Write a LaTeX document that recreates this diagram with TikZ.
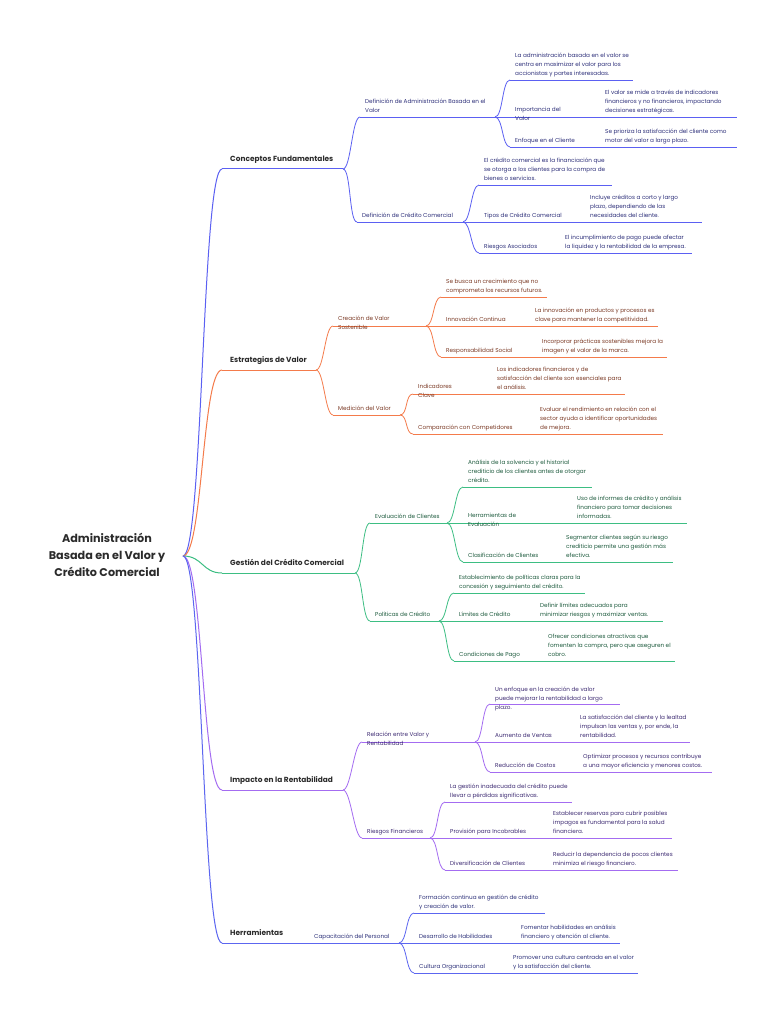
\documentclass[tikz,border=0pt]{standalone}
\usepackage{fontspec}
\setmainfont{Poppins}
\usetikzlibrary{calc}
\definecolor{lnA}{HTML}{5B60F2}\definecolor{txA}{HTML}{2E307A}
\definecolor{lnB}{HTML}{F47B4B}\definecolor{txB}{HTML}{7B3A25}
\definecolor{lnC}{HTML}{3DBE83}\definecolor{txC}{HTML}{1F5C3F}
\definecolor{lnD}{HTML}{A46CF1}\definecolor{txD}{HTML}{3E2C73}
\definecolor{lnE}{HTML}{5C66F0}\definecolor{txE}{HTML}{2E327A}
\definecolor{dark}{HTML}{2B2B2B}
\tikzset{
  txtbase/.style={inner sep=0pt, anchor=base west, font=\fontsize{5.7}{9}\selectfont},
  Aline/.style={draw=lnA, line width=0.8pt}, Atxt/.style={txtbase, text=txA},
  Bline/.style={draw=lnB, line width=0.8pt}, Btxt/.style={txtbase, text=txB},
  Cline/.style={draw=lnC, line width=0.8pt}, Ctxt/.style={txtbase, text=txC},
  Dline/.style={draw=lnD, line width=0.8pt}, Dtxt/.style={txtbase, text=txD},
  Eline/.style={draw=lnE, line width=0.8pt}, Etxt/.style={txtbase, text=txE},
  Ltxt/.style={inner sep=0pt, anchor=base west, xshift=3pt, text=dark, font=\fontsize{7.4}{10}\selectfont\bfseries},
  roottxt/.style={inner sep=0pt, align=center, text=dark, font=\fontsize{11.2}{17}\selectfont\bfseries},
}
% #1 dy, #2 name, #3 line style, #4 text style, #5 x0, #6 x1, #7 y, #8 text
\newcommand\mytopic[8][-4.5]{%
  \coordinate (#2-s) at (#5,#7);
  \coordinate (#2-e) at (#6,#7);
  \draw[#3] (#2-s) -- (#2-e);
  \node[#4] (#2) at ($(#2-s)+(5,#1)$) {\begin{tabular}[b]{@{}l@{}}#8\end{tabular}};
}
\newcommand\myconn[3]{\draw[#1] (#2-e) .. controls +(8,0) and +(-8,0) .. (#3-s);}
\newcommand\myrootconn[2]{\draw[#1, line width=1pt] (R) .. controls +(20,0) and +(-20,0) .. (#2-s);}
\begin{document}
\begin{tikzpicture}[x=1pt,y=-1pt]
\fill[white] (0,0) rectangle (768,1024);
\useasboundingbox (0,0) rectangle (768,1024);

% root
\node[roottxt] (root) at (107,555) {Administración\\Basada en el Valor y\\Crédito Comercial};
\coordinate (R) at (183,556);

% level 1
\mytopic[-7.5]{c1}{Aline,line width=1pt}{Ltxt}{222}{343}{169}{Conceptos Fundamentales}
\mytopic[-7.5]{c2}{Bline,line width=1pt}{Ltxt}{222}{316}{370}{Estrategias de Valor}
\mytopic[-7.5]{c3}{Cline,line width=1pt}{Ltxt}{222}{355}{573}{Gestión del Crédito Comercial}
\mytopic[-7.5]{c4}{Dline,line width=1pt}{Ltxt}{222}{343}{790}{Impacto en la Rentabilidad}
\mytopic[-7.5]{c5}{Eline,line width=1pt}{Ltxt}{222}{309}{943}{Herramientas}
\myrootconn{Aline}{c1}\myrootconn{Bline}{c2}\myrootconn{Cline}{c3}\myrootconn{Dline}{c4}\myrootconn{Eline}{c5}

% ---- Conceptos Fundamentales
\mytopic{c1a}{Aline}{Atxt}{360}{495}{117}{Definición de Administración Basada en el\\Valor}
\mytopic{c1b}{Aline}{Atxt}{357}{463}{222}{Definición de Crédito Comercial}
\myconn{Aline}{c1}{c1a}\myconn{Aline}{c1}{c1b}

\mytopic{c1a1}{Aline}{Atxt}{510}{633}{80}{La administración basada en el valor se\\centra en maximizar el valor para los\\accionistas y partes interesadas.}
\mytopic[3.5]{c1a2}{Aline}{Atxt}{510}{600}{117}{Importancia del\\Valor}
\mytopic{c1a2x}{Aline}{Atxt}{600}{737}{117}{El valor se mide a través de indicadores\\financieros y no financieros, impactando\\decisiones estratégicas.}
\mytopic{c1a3}{Aline}{Atxt}{510}{600}{147}{Enfoque en el Cliente}
\mytopic{c1a3x}{Aline}{Atxt}{600}{737}{147}{Se prioriza la satisfacción del cliente como\\motor del valor a largo plazo.}
\myconn{Aline}{c1a}{c1a1}\myconn{Aline}{c1a}{c1a2}\myconn{Aline}{c1a}{c1a3}
\myconn{Aline}{c1a2}{c1a2x}\myconn{Aline}{c1a3}{c1a3x}

\mytopic{c1b1}{Aline}{Atxt}{479}{612}{185}{El crédito comercial es la financiación que\\se otorga a los clientes para la compra de\\bienes o servicios.}
\mytopic{c1b2}{Aline}{Atxt}{479}{585}{222}{Tipos de Crédito Comercial}
\mytopic{c1b2x}{Aline}{Atxt}{585}{702}{222}{Incluye créditos a corto y largo\\plazo, dependiendo de las\\necesidades del cliente.}
\mytopic{c1b3}{Aline}{Atxt}{479}{560}{253}{Riesgos Asociados}
\mytopic{c1b3x}{Aline}{Atxt}{560}{692}{253}{El incumplimiento de pago puede afectar\\la liquidez y la rentabilidad de la empresa.}
\myconn{Aline}{c1b}{c1b1}\myconn{Aline}{c1b}{c1b2}\myconn{Aline}{c1b}{c1b3}
\myconn{Aline}{c1b2}{c1b2x}\myconn{Aline}{c1b3}{c1b3x}

% ---- Estrategias de Valor
\mytopic[3.5]{c2a}{Bline}{Btxt}{333}{426}{326}{Creación de Valor\\Sostenible}
\mytopic{c2b}{Bline}{Btxt}{333}{400}{415}{Medición del Valor}
\myconn{Bline}{c2}{c2a}\myconn{Bline}{c2}{c2b}

\mytopic{c2a1}{Bline}{Btxt}{441}{547}{297}{Se busca un crecimiento que no\\comprometa los recursos futuros.}
\mytopic{c2a2}{Bline}{Btxt}{441}{530}{326}{Innovación Continua}
\mytopic{c2a2x}{Bline}{Btxt}{530}{658}{326}{La innovación en productos y procesos es\\clave para mantener la competitividad.}
\mytopic{c2a3}{Bline}{Btxt}{441}{537}{357}{Responsabilidad Social}
\mytopic{c2a3x}{Bline}{Btxt}{537}{667}{357}{Incorporar prácticas sostenibles mejora la\\imagen y el valor de la marca.}
\myconn{Bline}{c2a}{c2a1}\myconn{Bline}{c2a}{c2a2}\myconn{Bline}{c2a}{c2a3}
\myconn{Bline}{c2a2}{c2a2x}\myconn{Bline}{c2a3}{c2a3x}

\mytopic[3.5]{c2b1}{Bline}{Btxt}{413}{492}{394}{Indicadores\\Clave}
\mytopic{c2b1x}{Bline}{Btxt}{492}{625}{394}{Los indicadores financieros y de\\satisfacción del cliente son esenciales para\\el análisis.}
\mytopic{c2b2}{Bline}{Btxt}{413}{535}{434}{Comparación con Competidores}
\mytopic{c2b2x}{Bline}{Btxt}{535}{663}{434}{Evaluar el rendimiento en relación con el\\sector ayuda a identificar oportunidades\\de mejora.}
\myconn{Bline}{c2b}{c2b1}\myconn{Bline}{c2b}{c2b2}
\myconn{Bline}{c2b1}{c2b1x}\myconn{Bline}{c2b2}{c2b2x}

% ---- Gestión del Crédito Comercial
\mytopic{c3a}{Cline}{Ctxt}{370}{447}{523}{Evaluación de Clientes}
\mytopic{c3b}{Cline}{Ctxt}{370}{439}{621}{Políticas de Crédito}
\myconn{Cline}{c3}{c3a}\myconn{Cline}{c3}{c3b}

\mytopic{c3a1}{Cline}{Ctxt}{463}{592}{487}{Análisis de la solvencia y el historial\\crediticio de los clientes antes de otorgar\\crédito.}
\mytopic[3.5]{c3a2}{Cline}{Ctxt}{463}{572}{523}{Herramientas de\\Evaluación}
\mytopic{c3a2x}{Cline}{Ctxt}{572}{687}{523}{Uso de informes de crédito y análisis\\financiero para tomar decisiones\\informadas.}
\mytopic{c3a3}{Cline}{Ctxt}{463}{561}{562}{Clasificación de Clientes}
\mytopic{c3a3x}{Cline}{Ctxt}{561}{673}{562}{Segmentar clientes según su riesgo\\crediticio permite una gestión más\\efectiva.}
\myconn{Cline}{c3a}{c3a1}\myconn{Cline}{c3a}{c3a2}\myconn{Cline}{c3a}{c3a3}
\myconn{Cline}{c3a2}{c3a2x}\myconn{Cline}{c3a3}{c3a3x}

\mytopic{c3b1}{Cline}{Ctxt}{454}{585}{593}{Establecimiento de políticas claras para la\\concesión y seguimiento del crédito.}
\mytopic{c3b2}{Cline}{Ctxt}{454}{535}{621}{Límites de Crédito}
\mytopic{c3b2x}{Cline}{Ctxt}{535}{663}{621}{Definir límites adecuados para\\minimizar riesgos y maximizar ventas.}
\mytopic{c3b3}{Cline}{Ctxt}{454}{543}{661}{Condiciones de Pago}
\mytopic{c3b3x}{Cline}{Ctxt}{543}{675}{661}{Ofrecer condiciones atractivas que\\fomenten la compra, pero que aseguren el\\cobro.}
\myconn{Cline}{c3b}{c3b1}\myconn{Cline}{c3b}{c3b2}\myconn{Cline}{c3b}{c3b3}
\myconn{Cline}{c3b2}{c3b2x}\myconn{Cline}{c3b3}{c3b3x}

% ---- Impacto en la Rentabilidad
\mytopic[3.5]{c4a}{Dline}{Dtxt}{362}{475}{742}{Relación entre Valor y\\Rentabilidad}
\mytopic{c4b}{Dline}{Dtxt}{362}{430}{838}{Riesgos Financieros}
\myconn{Dline}{c4}{c4a}\myconn{Dline}{c4}{c4b}

\mytopic[5]{c4a1}{Dline}{Dtxt}{490}{620}{704}{Un enfoque en la creación de valor\\puede mejorar la rentabilidad a largo\\plazo.}
\mytopic{c4a2}{Dline}{Dtxt}{490}{575}{742}{Aumento de Ventas}
\mytopic{c4a2x}{Dline}{Dtxt}{575}{690}{742}{La satisfacción del cliente y la lealtad\\impulsan las ventas y, por ende, la\\rentabilidad.}
\mytopic{c4a3}{Dline}{Dtxt}{490}{578}{772}{Reducción de Costos}
\mytopic{c4a3x}{Dline}{Dtxt}{578}{712}{772}{Optimizar procesos y recursos contribuye\\a una mayor eficiencia y menores costos.}
\myconn{Dline}{c4a}{c4a1}\myconn{Dline}{c4a}{c4a2}\myconn{Dline}{c4a}{c4a3}
\myconn{Dline}{c4a2}{c4a2x}\myconn{Dline}{c4a3}{c4a3x}

\mytopic{c4b1}{Dline}{Dtxt}{445}{572}{802}{La gestión inadecuada del crédito puede\\llevar a pérdidas significativas.}
\mytopic{c4b2}{Dline}{Dtxt}{445}{548}{838}{Provisión para Incobrables}
\mytopic{c4b2x}{Dline}{Dtxt}{548}{672}{838}{Establecer reservas para cubrir posibles\\impagos es fundamental para la salud\\financiera.}
\mytopic{c4b3}{Dline}{Dtxt}{445}{548}{870}{Diversificación de Clientes}
\mytopic{c4b3x}{Dline}{Dtxt}{548}{678}{870}{Reducir la dependencia de pocos clientes\\minimiza el riesgo financiero.}
\myconn{Dline}{c4b}{c4b1}\myconn{Dline}{c4b}{c4b2}\myconn{Dline}{c4b}{c4b3}
\myconn{Dline}{c4b2}{c4b2x}\myconn{Dline}{c4b3}{c4b3x}

% ---- Herramientas
\mytopic{c5a}{Eline}{Etxt}{309}{399}{943}{Capacitación del Personal}
\myconn{Eline}{c5}{c5a}
\mytopic{c5a1}{Eline}{Etxt}{414}{545}{913}{Formación continua en gestión de crédito\\y creación de valor.}
\mytopic{c5a2}{Eline}{Etxt}{414}{516}{943}{Desarrollo de Habilidades}
\mytopic{c5a2x}{Eline}{Etxt}{516}{620}{943}{Fomentar habilidades en análisis\\financiero y atención al cliente.}
\mytopic{c5a3}{Eline}{Etxt}{414}{508}{973}{Cultura Organizacional}
\mytopic{c5a3x}{Eline}{Etxt}{508}{638}{973}{Promover una cultura centrada en el valor\\y la satisfacción del cliente.}
\myconn{Eline}{c5a}{c5a1}\myconn{Eline}{c5a}{c5a2}\myconn{Eline}{c5a}{c5a3}
\myconn{Eline}{c5a2}{c5a2x}\myconn{Eline}{c5a3}{c5a3x}
\end{tikzpicture}
\end{document}
